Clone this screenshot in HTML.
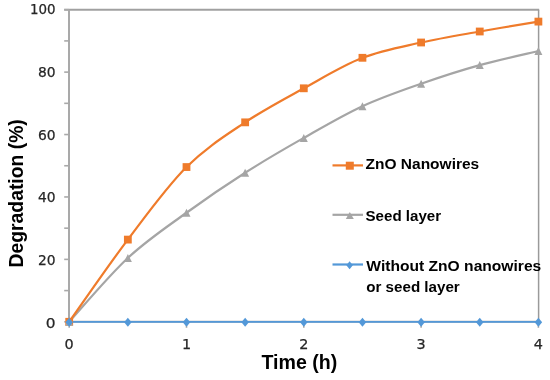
<!DOCTYPE html>
<html><head><meta charset="utf-8"><title>Degradation vs Time</title>
<style>
html,body{margin:0;padding:0;background:#fff;}
body{width:550px;height:380px;overflow:hidden;}
svg{display:block;}
.tk{font-family:"DejaVu Sans","Liberation Sans",sans-serif;font-size:14.4px;fill:#262626;stroke:#262626;stroke-width:0.25px;}
.ttl{font-family:"Liberation Sans",sans-serif;font-weight:bold;font-size:20.5px;fill:#000;}
.lg{font-family:"Liberation Sans",sans-serif;font-weight:bold;font-size:14.8px;fill:#000;}
</style></head>
<body>
<svg width="550" height="380" viewBox="0 0 550 380">
<rect width="550" height="380" fill="#fff"/>
<path d="M64.20,9.70H539.15" fill="none" stroke="#A0A0A0" stroke-width="2"/>
<path d="M538.60,9.70V321.80" fill="none" stroke="#9A9A9A" stroke-width="1.5"/>
<path d="M69,9.70V321.80H538.40" fill="none" stroke="#A9A9A9" stroke-width="2"/>
<path d="M64.20,321.80H69.20" stroke="#A9A9A9" stroke-width="1.6"/>
<path d="M64.20,290.59H69.20" stroke="#A9A9A9" stroke-width="1.6"/>
<path d="M64.20,259.38H69.20" stroke="#A9A9A9" stroke-width="1.6"/>
<path d="M64.20,228.17H69.20" stroke="#A9A9A9" stroke-width="1.6"/>
<path d="M64.20,196.96H69.20" stroke="#A9A9A9" stroke-width="1.6"/>
<path d="M64.20,165.75H69.20" stroke="#A9A9A9" stroke-width="1.6"/>
<path d="M64.20,134.54H69.20" stroke="#A9A9A9" stroke-width="1.6"/>
<path d="M64.20,103.33H69.20" stroke="#A9A9A9" stroke-width="1.6"/>
<path d="M64.20,72.12H69.20" stroke="#A9A9A9" stroke-width="1.6"/>
<path d="M64.20,40.91H69.20" stroke="#A9A9A9" stroke-width="1.6"/>
<path d="M64.20,9.70H69.20" stroke="#A9A9A9" stroke-width="1.6"/>
<path d="M69.20,321.80V327.80" stroke="#A9A9A9" stroke-width="1.6"/>
<path d="M186.50,321.80V327.80" stroke="#A9A9A9" stroke-width="1.6"/>
<path d="M303.80,321.80V327.80" stroke="#A9A9A9" stroke-width="1.6"/>
<path d="M421.10,321.80V327.80" stroke="#A9A9A9" stroke-width="1.6"/>
<path d="M538.40,321.80V327.80" stroke="#A9A9A9" stroke-width="1.6"/>
<path d="M69.20,321.85 C78.97,321.85 108.30,321.85 127.85,321.85 C147.40,321.85 166.95,321.85 186.50,321.85 C206.05,321.85 225.60,321.85 245.15,321.85 C264.70,321.85 284.25,321.85 303.80,321.85 C323.35,321.85 342.90,321.85 362.45,321.85 C382.00,321.85 401.55,321.85 421.10,321.85 C440.65,321.85 460.20,321.85 479.75,321.85 C499.30,321.85 528.62,321.85 538.40,321.85" fill="none" stroke="#5398D8" stroke-width="1.9" stroke-linejoin="round"/>
<path d="M69.20,321.80 C78.97,311.17 108.30,276.18 127.85,258.00 C147.40,239.82 166.95,226.96 186.50,212.75 C206.05,198.54 225.60,185.22 245.15,172.75 C264.70,160.28 284.25,148.99 303.80,137.90 C323.35,126.81 342.90,115.23 362.45,106.20 C382.00,97.17 401.55,90.55 421.10,83.70 C440.65,76.85 460.20,70.54 479.75,65.10 C499.30,59.66 528.62,53.39 538.40,51.05" fill="none" stroke="#A5A5A5" stroke-width="2.2" stroke-linejoin="round"/>
<path d="M69.20,321.80 C78.97,308.10 108.30,265.39 127.85,239.60 C147.40,213.81 166.95,186.59 186.50,167.05 C206.05,147.51 225.60,135.47 245.15,122.35 C264.70,109.22 284.25,99.06 303.80,88.30 C323.35,77.54 342.90,65.43 362.45,57.80 C382.00,50.17 401.55,46.88 421.10,42.50 C440.65,38.12 460.20,34.98 479.75,31.50 C499.30,28.02 528.62,23.25 538.40,21.60" fill="none" stroke="#EF7B2B" stroke-width="2.2" stroke-linejoin="round"/>
<rect x="65.30" y="317.90" width="7.8" height="7.8" fill="#EF7B2B"/>
<rect x="123.95" y="235.70" width="7.8" height="7.8" fill="#EF7B2B"/>
<rect x="182.60" y="163.15" width="7.8" height="7.8" fill="#EF7B2B"/>
<rect x="241.25" y="118.45" width="7.8" height="7.8" fill="#EF7B2B"/>
<rect x="299.90" y="84.40" width="7.8" height="7.8" fill="#EF7B2B"/>
<rect x="358.55" y="53.90" width="7.8" height="7.8" fill="#EF7B2B"/>
<rect x="417.20" y="38.60" width="7.8" height="7.8" fill="#EF7B2B"/>
<rect x="475.85" y="27.60" width="7.8" height="7.8" fill="#EF7B2B"/>
<rect x="534.50" y="17.70" width="7.8" height="7.8" fill="#EF7B2B"/>
<path d="M69.20,317.80L73.20,325.80L65.20,325.80Z" fill="#A5A5A5"/>
<path d="M127.85,254.00L131.85,262.00L123.85,262.00Z" fill="#A5A5A5"/>
<path d="M186.50,208.75L190.50,216.75L182.50,216.75Z" fill="#A5A5A5"/>
<path d="M245.15,168.75L249.15,176.75L241.15,176.75Z" fill="#A5A5A5"/>
<path d="M303.80,133.90L307.80,141.90L299.80,141.90Z" fill="#A5A5A5"/>
<path d="M362.45,102.20L366.45,110.20L358.45,110.20Z" fill="#A5A5A5"/>
<path d="M421.10,79.70L425.10,87.70L417.10,87.70Z" fill="#A5A5A5"/>
<path d="M479.75,61.10L483.75,69.10L475.75,69.10Z" fill="#A5A5A5"/>
<path d="M538.40,47.05L542.40,55.05L534.40,55.05Z" fill="#A5A5A5"/>
<path d="M69.20,317.85L72.95,322.35L69.20,326.85L65.45,322.35Z" fill="#5398D8"/>
<path d="M127.85,317.85L131.60,322.35L127.85,326.85L124.10,322.35Z" fill="#5398D8"/>
<path d="M186.50,317.85L190.25,322.35L186.50,326.85L182.75,322.35Z" fill="#5398D8"/>
<path d="M245.15,317.85L248.90,322.35L245.15,326.85L241.40,322.35Z" fill="#5398D8"/>
<path d="M303.80,317.85L307.55,322.35L303.80,326.85L300.05,322.35Z" fill="#5398D8"/>
<path d="M362.45,317.85L366.20,322.35L362.45,326.85L358.70,322.35Z" fill="#5398D8"/>
<path d="M421.10,317.85L424.85,322.35L421.10,326.85L417.35,322.35Z" fill="#5398D8"/>
<path d="M479.75,317.85L483.50,322.35L479.75,326.85L476.00,322.35Z" fill="#5398D8"/>
<path d="M538.40,317.85L542.15,322.35L538.40,326.85L534.65,322.35Z" fill="#5398D8"/>
<text x="55.6" y="327.80" text-anchor="end" class="tk" textLength="9.8" lengthAdjust="spacingAndGlyphs">0</text>
<text x="55.6" y="264.88" text-anchor="end" class="tk" textLength="17.6" lengthAdjust="spacingAndGlyphs">20</text>
<text x="55.6" y="202.36" text-anchor="end" class="tk" textLength="17.6" lengthAdjust="spacingAndGlyphs">40</text>
<text x="55.6" y="139.94" text-anchor="end" class="tk" textLength="17.6" lengthAdjust="spacingAndGlyphs">60</text>
<text x="55.6" y="76.82" text-anchor="end" class="tk" textLength="17.6" lengthAdjust="spacingAndGlyphs">80</text>
<text x="55.6" y="13.90" text-anchor="end" class="tk" textLength="25.6" lengthAdjust="spacingAndGlyphs">100</text>
<text x="69.20" y="348.7" text-anchor="middle" class="tk">0</text>
<text x="186.50" y="348.7" text-anchor="middle" class="tk">1</text>
<text x="303.80" y="348.7" text-anchor="middle" class="tk">2</text>
<text x="421.10" y="348.7" text-anchor="middle" class="tk">3</text>
<text x="538.40" y="348.7" text-anchor="middle" class="tk">4</text>
<text transform="translate(22.9,267.5) rotate(-90)" class="ttl" textLength="148.3" lengthAdjust="spacingAndGlyphs">Degradation (%)</text>
<text x="261.5" y="368.5" class="ttl" textLength="75.8" lengthAdjust="spacingAndGlyphs">Time (h)</text>
<path d="M332.5,165.40H363" stroke="#EF7B2B" stroke-width="2.2"/>
<rect x="345.80" y="161.70" width="8" height="8" fill="#EF7B2B"/>
<path d="M332.5,214.80H363" stroke="#A5A5A5" stroke-width="2.2"/>
<path d="M349.80,212.10L353.80,219.10L345.80,219.10Z" fill="#A5A5A5"/>
<path d="M332.5,264.50H363" stroke="#5398D8" stroke-width="2.2"/>
<path d="M349.60,261.30L352.85,265.30L349.60,269.30L346.35,265.30Z" fill="#5398D8"/>
<text x="365.6" y="169.2" class="lg" textLength="113.6" lengthAdjust="spacingAndGlyphs">ZnO Nanowires</text>
<text x="365.5" y="221.3" class="lg" textLength="75.6" lengthAdjust="spacingAndGlyphs">Seed layer</text>
<text x="366.3" y="270.5" class="lg" textLength="175" lengthAdjust="spacingAndGlyphs">Without ZnO nanowires</text>
<text x="366.2" y="291.6" class="lg" textLength="93.6" lengthAdjust="spacingAndGlyphs">or seed layer</text>
</svg>
</body></html>
